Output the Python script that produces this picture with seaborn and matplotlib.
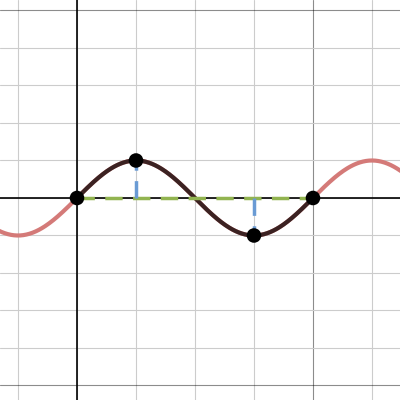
import numpy as np
import matplotlib
matplotlib.use("Agg")
import matplotlib.pyplot as plt
import seaborn as sns

# key points of y = sin(pi x / 2)
point_x = [0, 1, 3, 4]
point_y = [0, 1, -1, 0]
period = 4
amplitude = 1

sns.set_theme(style="white")
fig = plt.figure(figsize=(4, 4), dpi=100)
ax = fig.add_axes([0, 0, 1, 1])
ax.set_xlim(-1.305, 5.475)
ax.set_ylim(-5.387, 5.28)

for gx in range(-1, 6):
    ax.axvline(gx, color="#000000" if gx == 4 else "#cccccc",
               lw=0.8, alpha=0.45 if gx == 4 else 1, zorder=0)
for gy in range(-5, 6):
    ax.axhline(gy, color="#000000" if abs(gy) == 5 else "#cccccc",
               lw=0.8, alpha=0.45 if abs(gy) == 5 else 1, zorder=0)
ax.axhline(0, color="black", lw=1.2, zorder=1)
ax.axvline(0, color="black", lw=1.2, zorder=1)

xs = np.linspace(-1.4, 5.6, 400)
sns.lineplot(x=xs, y=amplitude * np.sin(2 * np.pi * xs / period), ax=ax,
             color="#d47a78", lw=3, zorder=2)
xi = np.linspace(point_x[0], point_x[-1], 300)
sns.lineplot(x=xi, y=amplitude * np.sin(2 * np.pi * xi / period), ax=ax,
             color="#3b2222", lw=3, zorder=3)

ax.plot([point_x[0], point_x[-1]], [0, 0], color="#92b450", lw=2.5,
        ls=(0, (5, 3)), zorder=4)
for px, py in zip(point_x[1:3], point_y[1:3]):
    ax.plot([px, px], [0, py], color="#6a9bd4", lw=2.5, ls=(0, (5, 3)), zorder=4)

sns.scatterplot(x=point_x, y=point_y, ax=ax, color="black", s=110,
                edgecolor="none", zorder=5)

ax.set_xticks([])
ax.set_yticks([])
for s in ax.spines.values():
    s.set_visible(False)
fig.savefig("out.png", dpi=100)
